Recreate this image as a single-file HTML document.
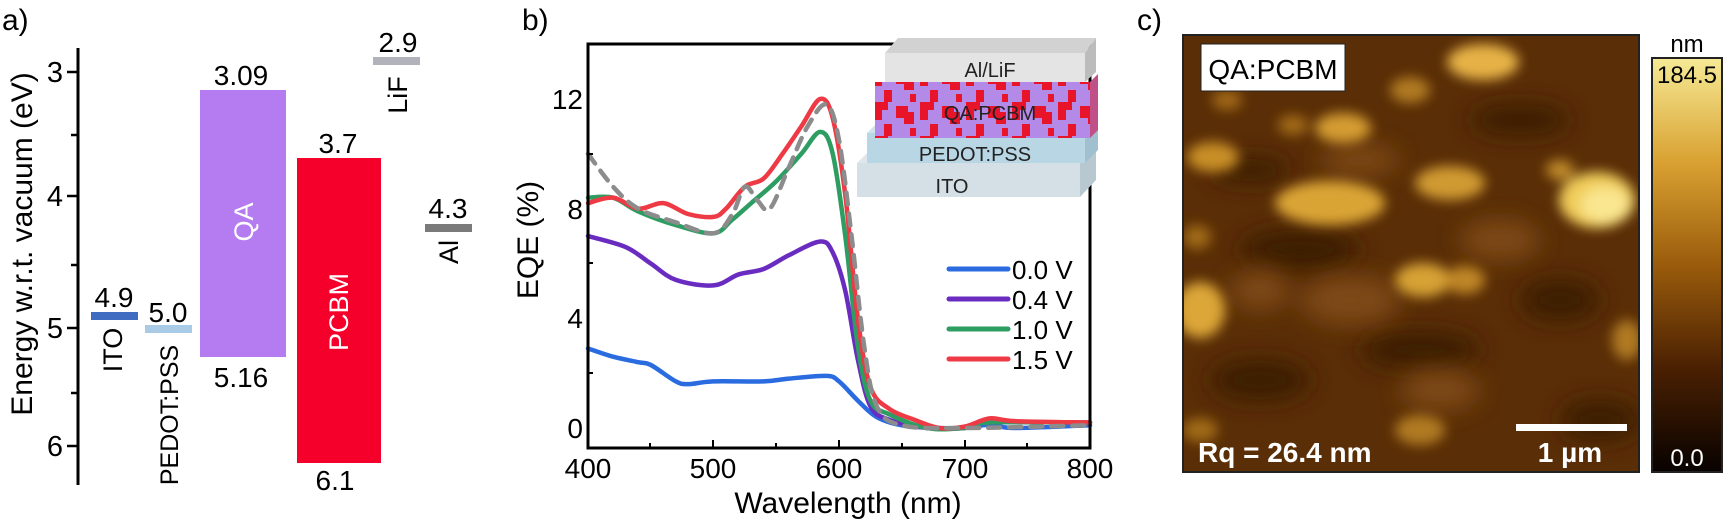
<!DOCTYPE html>
<html><head><meta charset="utf-8"><style>
html,body{margin:0;padding:0;background:#fff;}
svg{display:block;font-family:"Liberation Sans",Arial,sans-serif;}
</style></head><body>
<svg id="s" width="1725" height="531" viewBox="0 0 1725 531" xmlns="http://www.w3.org/2000/svg">
<defs>
<filter id="bl" x="-50%" y="-50%" width="200%" height="200%"><feGaussianBlur stdDeviation="12"/></filter>
<filter id="bl2" x="-50%" y="-50%" width="200%" height="200%"><feGaussianBlur stdDeviation="6"/></filter>
<linearGradient id="cb" x1="0" y1="0" x2="0" y2="1">
<stop offset="0" stop-color="#f6ea96"/><stop offset="0.25" stop-color="#d9a232"/><stop offset="0.5" stop-color="#9a5c0c"/><stop offset="0.75" stop-color="#4a2002"/><stop offset="1" stop-color="#080200"/>
</linearGradient>
<clipPath id="afm"><rect x="1183" y="35" width="456" height="437"/></clipPath>
<pattern id="qa" width="46" height="34" patternUnits="userSpaceOnUse">
<rect width="46" height="34" fill="#b48ae8"/><path d="M0 0h14v8h-6v10h-8z M22 4h12v6h6v12h-10v-6h-8z M10 22h8v12h-8z M36 26h6v8h-6z" fill="#e8142a"/>
</pattern>
</defs>

<!-- Panel a -->
<text x="2" y="30" font-size="30">a)</text>
<line x1="78" y1="48" x2="78" y2="485" stroke="#000" stroke-width="3"/>
<g stroke="#000" stroke-width="2.5">
<line x1="67" y1="72" x2="78" y2="72"/><line x1="67" y1="196" x2="78" y2="196"/><line x1="67" y1="328" x2="78" y2="328"/><line x1="67" y1="446" x2="78" y2="446"/>
<line x1="71" y1="135" x2="78" y2="135"/><line x1="71" y1="265" x2="78" y2="265"/><line x1="71" y1="393" x2="78" y2="393"/>
</g>
<g font-size="29" text-anchor="end">
<text x="63" y="82">3</text><text x="63" y="206">4</text><text x="63" y="338">5</text><text x="63" y="456">6</text>
</g>
<text transform="translate(32,244) rotate(-90)" font-size="30" text-anchor="middle">Energy w.r.t. vacuum (eV)</text>
<rect x="91" y="312" width="47" height="8" fill="#3f6cc0"/>
<rect x="145" y="325" width="47" height="8" fill="#a9cbe6"/>
<rect x="200" y="90" width="86" height="267" fill="#b47cf0"/>
<rect x="297" y="158" width="84" height="305" fill="#f4002a"/>
<rect x="373" y="57" width="47" height="8" fill="#b2b2ba"/>
<rect x="425" y="224" width="47" height="8" fill="#7a7a7a"/>
<g font-size="28" text-anchor="middle">
<text x="114" y="307">4.9</text><text x="168" y="322">5.0</text>
<text x="241" y="85">3.09</text><text x="241" y="387">5.16</text>
<text x="338" y="153">3.7</text><text x="335" y="490">6.1</text>
<text x="398" y="52">2.9</text><text x="448" y="218">4.3</text>
</g>
<g font-size="27" text-anchor="middle">
<text transform="translate(122,350) rotate(-90)">ITO</text>
<text transform="translate(178,415) rotate(-90)" font-size="25">PEDOT:PSS</text>
<text transform="translate(253,222) rotate(-90)" fill="#fff">QA</text>
<text transform="translate(348,312) rotate(-90)" fill="#fff">PCBM</text>
<text transform="translate(407,95) rotate(-90)">LiF</text>
<text transform="translate(458,252) rotate(-90)">Al</text>
</g>

<!-- Panel b -->
<text x="522" y="30" font-size="30">b)</text>
<g id="curves" fill="none" stroke-width="4.5" stroke-linejoin="round" stroke-linecap="round"></g>
<rect x="588" y="44" width="502" height="404" fill="none" stroke="#000" stroke-width="3"/>
<g stroke="#000" stroke-width="2">
<line x1="650" y1="448" x2="650" y2="443"/><line x1="776" y1="448" x2="776" y2="443"/><line x1="902" y1="448" x2="902" y2="443"/><line x1="1027" y1="448" x2="1027" y2="443"/>
<line x1="713" y1="448" x2="713" y2="440"/><line x1="839" y1="448" x2="839" y2="440"/><line x1="965" y1="448" x2="965" y2="440"/>
<line x1="588" y1="373" x2="593" y2="373"/><line x1="588" y1="263" x2="593" y2="263"/><line x1="588" y1="154" x2="593" y2="154"/>
</g>
<g font-size="28" text-anchor="end">
<text x="583" y="109">12</text><text x="583" y="219">8</text><text x="583" y="328">4</text><text x="583" y="438">0</text>
</g>
<g font-size="28" text-anchor="middle">
<text x="588" y="478">400</text><text x="713" y="478">500</text><text x="839" y="478">600</text><text x="965" y="478">700</text><text x="1090" y="478">800</text>
</g>
<text x="848" y="513" font-size="30" text-anchor="middle">Wavelength (nm)</text>
<text transform="translate(538,240) rotate(-90)" font-size="30" text-anchor="middle">EQE (%)</text>
<!-- inset -->
<polygon points="857,163 1080,163 1096,145 875,145" fill="#dfe7ec"/>
<rect x="857" y="163" width="223" height="34" fill="#d4e0e6"/>
<polygon points="1080,163 1096,145 1096,180 1080,197" fill="#b8c8d0"/>
<polygon points="867,133 1085,133 1098,120 880,120" fill="#cfe3ee"/>
<rect x="867" y="133" width="218" height="30" fill="#b8d6e4"/>
<polygon points="1085,133 1098,120 1098,150 1085,163" fill="#a0c0d0"/>
<rect x="875" y="82" width="215" height="56" fill="url(#qa)"/>
<polygon points="1090,82 1098,74 1098,130 1090,138" fill="#c05088"/>
<polygon points="885,53 1085,53 1096,38 898,38" fill="#d2d2d2"/>
<rect x="885" y="53" width="200" height="29" fill="#e4e4e4"/>
<polygon points="1085,53 1096,38 1096,72 1085,82" fill="#bcbcbc"/>
<g font-size="20" text-anchor="middle" fill="#222">
<text x="990" y="77">Al/LiF</text><text x="990" y="120">QA:PCBM</text><text x="975" y="161">PEDOT:PSS</text><text x="952" y="193">ITO</text>
</g>
<!-- legend -->
<g stroke-width="5" stroke-linecap="round">
<line x1="949" y1="269" x2="1008" y2="269" stroke="#2a6be0"/>
<line x1="949" y1="299" x2="1008" y2="299" stroke="#6a2cc0"/>
<line x1="949" y1="329" x2="1008" y2="329" stroke="#2e9d62"/>
<line x1="949" y1="359" x2="1008" y2="359" stroke="#ee3a44"/>
</g>
<g font-size="26">
<text x="1012" y="279">0.0 V</text><text x="1012" y="309">0.4 V</text><text x="1012" y="339">1.0 V</text><text x="1012" y="369">1.5 V</text>
</g>

<!-- Panel c -->
<text x="1137" y="30" font-size="30">c)</text>
<g clip-path="url(#afm)">
<rect x="1183" y="35" width="456" height="437" fill="#5a2e06"/>
<g filter="url(#bl)" fill="#3a1a02">
<ellipse cx="1300" cy="250" rx="60" ry="20"/><ellipse cx="1520" cy="120" rx="50" ry="15"/><ellipse cx="1560" cy="300" rx="40" ry="20"/><ellipse cx="1260" cy="380" rx="50" ry="20"/><ellipse cx="1420" cy="350" rx="60" ry="18"/><ellipse cx="1250" cy="170" rx="40" ry="12"/><ellipse cx="1600" cy="420" rx="40" ry="20"/>
</g>
<g filter="url(#bl)" fill="#7e4a12">
<ellipse cx="1350" cy="300" rx="50" ry="25"/><ellipse cx="1260" cy="290" rx="30" ry="20"/><ellipse cx="1500" cy="240" rx="40" ry="20"/><ellipse cx="1440" cy="390" rx="40" ry="20"/><ellipse cx="1360" cy="160" rx="40" ry="15"/>
</g>
<g filter="url(#bl2)">
<ellipse cx="1483" cy="62" rx="36" ry="18" fill="#e6b246"/>
<ellipse cx="1410" cy="90" rx="20" ry="13" fill="#b07a20"/>
<ellipse cx="1343" cy="128" rx="28" ry="15" fill="#d49c32"/>
<ellipse cx="1293" cy="125" rx="15" ry="10" fill="#a26a18"/>
<ellipse cx="1227" cy="100" rx="15" ry="10" fill="#a06818"/>
<ellipse cx="1213" cy="157" rx="26" ry="15" fill="#c88e28"/>
<ellipse cx="1330" cy="203" rx="55" ry="22" fill="#daa436"/>
<ellipse cx="1450" cy="183" rx="35" ry="17" fill="#d09a30"/>
<ellipse cx="1597" cy="200" rx="38" ry="28" fill="#f0cc5a"/>
<ellipse cx="1605" cy="205" rx="24" ry="18" fill="#fae690"/>
<ellipse cx="1423" cy="280" rx="28" ry="17" fill="#d6a234"/>
<ellipse cx="1200" cy="310" rx="25" ry="28" fill="#dca638"/>
<ellipse cx="1197" cy="237" rx="14" ry="12" fill="#a06a18"/>
<ellipse cx="1420" cy="430" rx="25" ry="15" fill="#b07a22"/>
<ellipse cx="1627" cy="340" rx="15" ry="20" fill="#b07a20"/>
<ellipse cx="1465" cy="280" rx="20" ry="14" fill="#c08628"/>
<ellipse cx="1200" cy="430" rx="18" ry="12" fill="#a06a18"/>
<ellipse cx="1560" cy="170" rx="14" ry="10" fill="#c08a2a"/>
</g>
</g>
<rect x="1183" y="35" width="456" height="437" fill="none" stroke="#222" stroke-width="2"/>
<rect x="1201" y="44" width="144" height="47" fill="#fff" stroke="#222" stroke-width="1"/>
<text x="1273" y="79" font-size="28" text-anchor="middle">QA:PCBM</text>
<rect x="1516" y="424" width="111" height="7" fill="#fff"/>
<text x="1570" y="462" font-size="28" font-weight="bold" fill="#fff" text-anchor="middle">1 µm</text>
<text x="1198" y="462" font-size="28" font-weight="bold" fill="#fff">Rq = 26.4 nm</text>
<rect x="1652" y="58" width="70" height="414" fill="url(#cb)" stroke="#222" stroke-width="2"/>
<text x="1687" y="52" font-size="24" text-anchor="middle">nm</text>
<text x="1687" y="83" font-size="24" text-anchor="middle">184.5</text>
<text x="1687" y="466" font-size="24" text-anchor="middle" fill="#fff">0.0</text>
</svg>
<script>
const X=l=>588+(l-400)*1.255, Y=v=>428-v*27.42;
const data={
"#2a6be0":[[400,2.9],[420,2.6],[440,2.4],[450,2.3],[470,1.7],[480,1.6],[500,1.7],[540,1.7],[560,1.8],[590,1.9],[600,1.7],[615,1.0],[630,0.4],[650,0.1],[680,0],[700,0],[720,0.12],[740,0],[800,0.1]],
"#6a2cc0":[[400,7.0],[430,6.6],[450,6.0],[470,5.4],[500,5.2],[520,5.6],[540,5.8],[560,6.3],[585,6.8],[595,6.4],[605,5.0],[615,2.5],[625,0.8],[640,0.3],[670,0],[700,0],[720,0.2],[800,0.2]],
"#2e9d62":[[400,8.4],[420,8.4],[440,7.9],[470,7.4],[500,7.1],[515,7.6],[530,8.2],[550,9.0],[570,10.0],[585,10.8],[595,10.0],[605,7.0],[615,3.0],[625,1.0],[640,0.5],[670,0],[700,0],[720,0.2],[800,0.2]],
"#ee3a44":[[400,8.2],[420,8.4],[440,8.0],[460,8.2],[480,7.8],[500,7.7],[510,8.0],[525,8.8],[540,9.1],[555,10.0],[570,11.0],[585,12.0],[595,11.3],[605,8.5],[615,4.0],[625,1.5],[640,0.7],[660,0.3],[680,0],[700,0.05],[720,0.35],[740,0.25],[800,0.2]],
"dash":[[400,10.0],[420,8.8],[440,8.0],[470,7.5],[500,7.1],[515,7.8],[525,8.8],[535,8.3],[545,8.0],[560,9.5],[575,11.0],[590,11.8],[600,10.5],[610,7.0],[620,3.0],[630,0.8],[650,0.1],[700,0],[800,0.1]]};
function path(p){p=p.map(a=>[X(a[0]),Y(a[1])]);let d="M"+p[0];for(let i=0;i<p.length-1;i++){const a=p[i-1]||p[i],b=p[i],c=p[i+1],e=p[i+2]||c;d+="C"+(b[0]+(c[0]-a[0])/6)+","+(b[1]+(c[1]-a[1])/6)+" "+(c[0]-(e[0]-b[0])/6)+","+(c[1]-(e[1]-b[1])/6)+" "+c;}return d;}
const g=document.getElementById("curves");let h="";
for(const k of ["#2a6be0","#6a2cc0","#2e9d62","#ee3a44","dash"]){h+=k=="dash"?`<path d="${path(data[k])}" stroke="#8c8c8c" stroke-dasharray="12,9"/>`:`<path d="${path(data[k])}" stroke="${k}"/>`;}
g.innerHTML=h;
</script>
</body></html>
